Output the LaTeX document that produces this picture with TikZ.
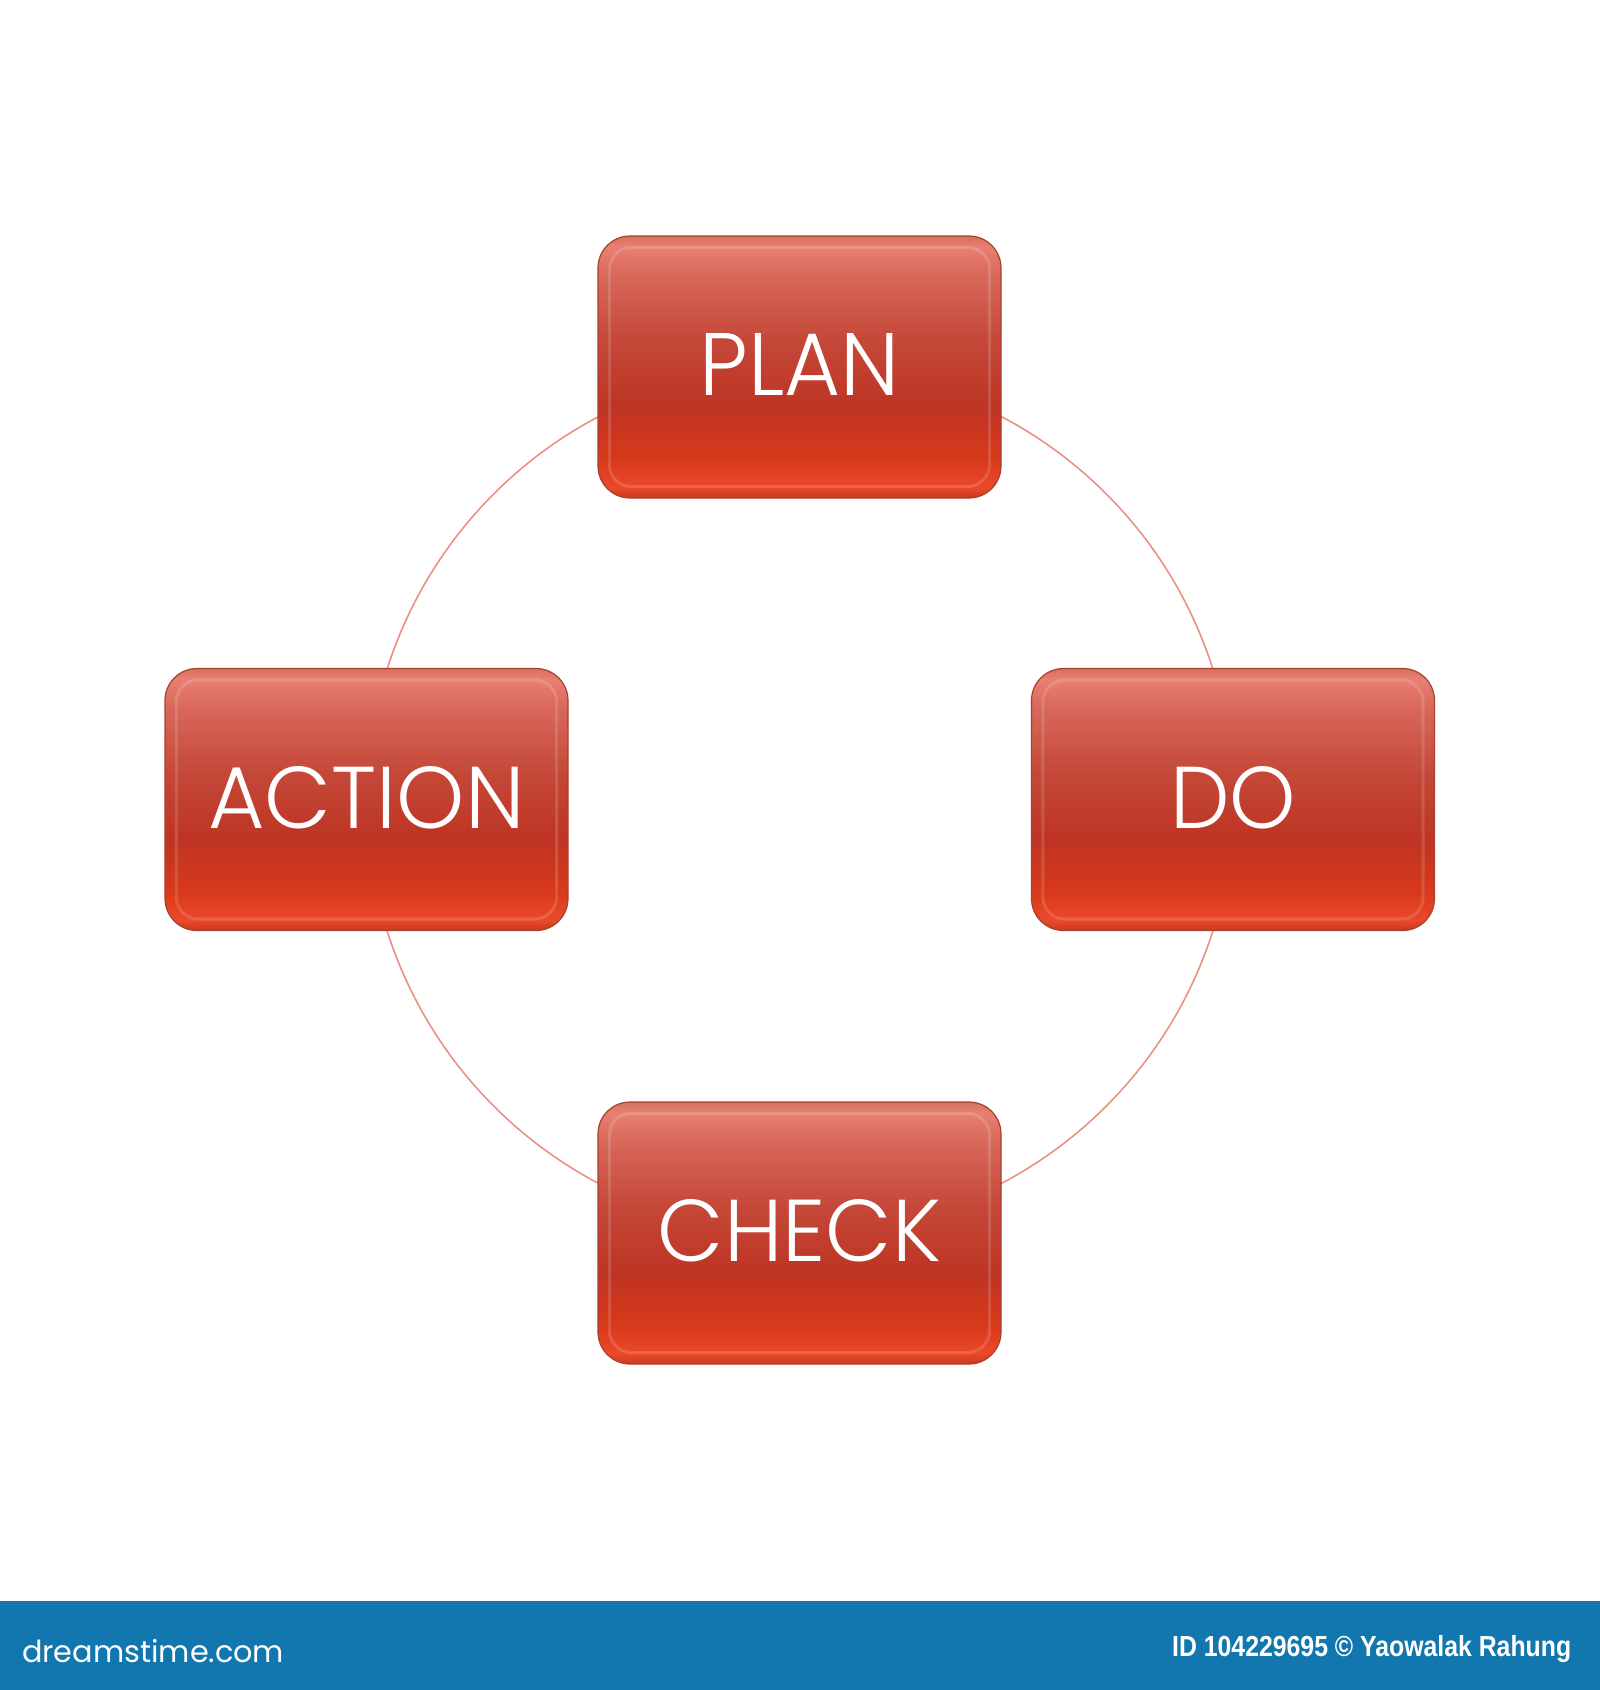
\documentclass[tikz,border=0pt]{standalone}
\usepackage{fontspec}
\usepackage{graphicx}
\usetikzlibrary{calc}
\newfontfamily\labfont{Poppins}[UprightFont={* Light}]
\newfontfamily\sitefont{Poppins}
\newfontfamily\barfont{Liberation Sans}
\definecolor{ringc}{HTML}{EA9282}
\definecolor{barc}{HTML}{1277AE}
\definecolor{rimc}{HTML}{A8402E}
\definecolor{sA}{HTML}{C8381E}
\definecolor{sB}{HTML}{EA4A2A}
\definecolor{sC}{HTML}{D8391A}
\definecolor{sD}{HTML}{BE3424}
\definecolor{sE}{HTML}{C44838}
\definecolor{sF}{HTML}{D8685A}
\definecolor{sG}{HTML}{E88072}
\definecolor{sH}{HTML}{D57060}
\pgfdeclareverticalshading{btnshade}{100bp}{%
  color(0bp)=(sA); color(25bp)=(sA); color(27bp)=(sB); color(32.5bp)=(sC);
  color(42.5bp)=(sD); color(55bp)=(sE); color(67.5bp)=(sF); color(73bp)=(sG);
  color(75bp)=(sH); color(100bp)=(sH)}
\tikzset{
  btn/.style={draw=rimc, line width=1.2pt, rounded corners=32pt,
    shading=btnshade, minimum width=403pt, minimum height=262pt,
    inner sep=0pt, text=white},
  hilite/.style={draw=white, draw opacity=0.14, line width=3pt, rounded corners=22pt},
  ring/.style={draw=ringc, line width=1.6pt},
}
\newcommand{\lab}[2]{\raisebox{5pt}{\resizebox{#1}{62pt}{\labfont #2}}}
\begin{document}
\begin{tikzpicture}[x=1pt,y=-1pt]
\useasboundingbox (0,0) rectangle (1600,1690);
\fill[white] (0,0) rectangle (1600,1690);
\coordinate (center) at (800,800);
\draw[ring] (center) circle (433pt);
\node[btn] (plan) at (799.5,367) {\lab{200pt}{PLAN}};
\node[btn] (action) at (366.5,799.5) {\lab{316pt}{ACTION}};
\node[btn] (do) at (1233,799.5) {\lab{126pt}{DO}};
\node[btn] (check) at (799.5,1233) {\lab{283pt}{CHECK}};
\foreach \n in {plan,action,do,check}{
  \draw[hilite] ($(\n.north west)+(12,12)$) rectangle ($(\n.south east)+(-12,-12)$);
}
\fill[barc] (0,1601) rectangle (1600,1690);
\node[anchor=base west, inner sep=0pt, text=white] (site) at (22,1662)
  {\resizebox{262pt}{!}{\sitefont dreamstime.com}};
\node[anchor=base west, inner sep=0pt, text=white] (credit) at (1172,1656)
  {\resizebox{399pt}{21pt}{\barfont\bfseries ID 104229695 © Yaowalak Rahung}};
\end{tikzpicture}
\end{document}
